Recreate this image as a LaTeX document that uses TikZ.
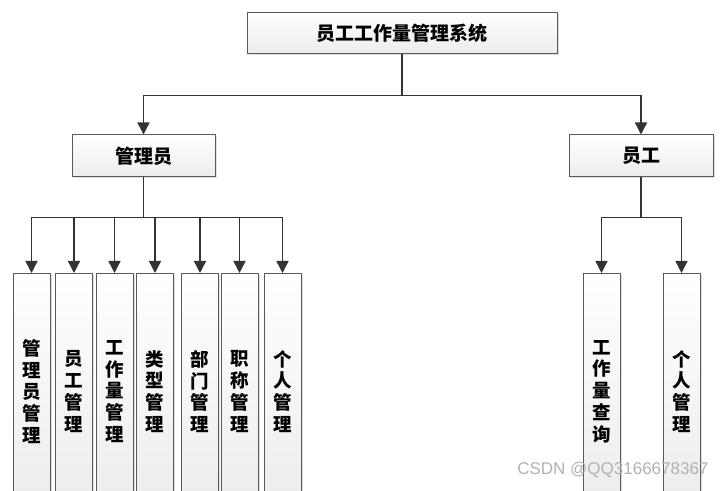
\documentclass[tikz,border=0pt]{standalone}
\usepackage{fontspec}
\newfontfamily\cjk{Noto Sans CJK SC}
\newfontfamily\wmfont{Liberation Sans}
\usetikzlibrary{arrows.meta,shadows}

\begin{document}
\begin{tikzpicture}[x=1pt,y=1pt,>={Triangle[width=12pt,length=12pt]},
  box/.style={draw=gray!70!black,line width=1pt,top color=white,bottom color=gray!15,
    drop shadow={shadow xshift=1.5pt,shadow yshift=-1.5pt,opacity=0.25},
    font=\cjk\bfseries\fontsize{19}{22}\selectfont,inner sep=0pt},
  leaf/.style={box,minimum width=37pt,minimum height=236pt,anchor=north,align=center,
    font=\cjk\bfseries\fontsize{18.5}{21.8}\selectfont},
  link/.style={->,draw=gray!40!black,line width=1.4pt}]
\clip (0,0) rectangle (727,490);
\fill[white] (0,0) rectangle (727,490);
\node[box,minimum width=310pt,minimum height=41pt] (sys) at (402,456.5) {员工工作量管理系统};
\node[box,minimum width=143pt,minimum height=42pt] (admin) at (143.5,334) {管理员};
\node[box,minimum width=144pt,minimum height=42pt] (staff) at (641,334) {员工};
\node[leaf] (m1) at (31.5,217) {管\\理\\员\\管\\理};
\node[leaf] (m2) at (74,217) {员\\工\\管\\理};
\node[leaf] (m3) at (114.5,217) {工\\作\\量\\管\\理};
\node[leaf] (m4) at (155,217) {类\\型\\管\\理};
\node[leaf] (m5) at (200,217) {部\\门\\管\\理};
\node[leaf] (m6) at (239.5,217) {职\\称\\管\\理};
\node[leaf] (m7) at (282.5,217) {个\\人\\管\\理};
\node[leaf] (s1) at (601.5,217) {工\\作\\量\\查\\询};
\node[leaf] (s2) at (681.5,217) {个\\人\\管\\理};
\draw[link] (sys.south) -- ++(0,-41) -| (admin.north);
\draw[link] (sys.south) -- ++(0,-41) -| (staff.north);
\foreach \n in {m1,m2,m3,m4,m5,m6,m7}
  \draw[link] (admin.south) -- ++(0,-40) -| (\n.north);
\foreach \n in {s1,s2}
  \draw[link] (staff.south) -- ++(0,-40) -| (\n.north);
\node[font=\wmfont\fontsize{17}{17}\selectfont,text=gray!60,anchor=east] (mark) at (712,20) {CSDN @QQ3166678367};
\end{tikzpicture}
\end{document}
